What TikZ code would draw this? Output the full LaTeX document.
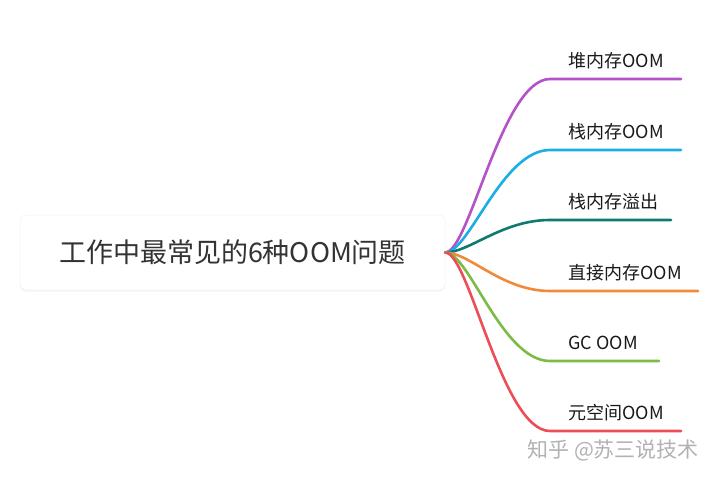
\documentclass[tikz,border=0pt]{standalone}
\usepackage{fontspec}
\newfontfamily\cjk{Noto Sans CJK SC}
\usetikzlibrary{shadows}

\definecolor{astlila}{HTML}{B452C8}
\definecolor{astblau}{HTML}{1BAEE6}
\definecolor{astpetrol}{HTML}{0F7B6F}
\definecolor{astorange}{HTML}{F0893A}
\definecolor{astgruen}{HTML}{7CBB46}
\definecolor{astrot}{HTML}{EC4D56}
\definecolor{schrift}{HTML}{333333}

\begin{document}
\begin{tikzpicture}[x=1pt,y=-1pt,thick]

\useasboundingbox[fill=white] (0,0) rectangle (720,479);

\node[fill=white,draw=black!6,line width=0.5pt,rounded corners=6pt,
	minimum width=425pt,minimum height=75pt,
	drop shadow={shadow xshift=0pt,shadow yshift=-1.5pt,opacity=0.08},
	font=\cjk\fontsize{27}{32}\selectfont,text=schrift] (wurzel) at (232.5,252.5) {工作中最常见的6种OOM问题};

\def\ast#1#2#3#4#5{
	\coordinate (s#1) at (550,#2);
	\coordinate (e#1) at (#3,#2);
	\draw[line width=2.6pt,line cap=round,color=#4]
		(wurzel.east) .. controls +(24,0) and +(-48,0) .. (s#1) -- (e#1);
	\node[anchor=base west,inner sep=0pt,font=\cjk\fontsize{18}{21}\selectfont,text=black!90] (blatt#1) at (568,#2-12) {#5};
}

\ast{1}{79}{681}{astlila}{堆内存OOM}
\ast{2}{150}{681}{astblau}{栈内存OOM}
\ast{3}{220}{671}{astpetrol}{栈内存溢出}
\ast{4}{291}{698}{astorange}{直接内存OOM}
\ast{5}{361}{659}{astgruen}{GC OOM}
\ast{6}{431}{681}{astrot}{元空间OOM}

\node[anchor=base west,inner sep=0pt,font=\cjk\fontsize{21}{24}\selectfont,text=black!30] (wasserzeichen) at (527,457) {知乎 @苏三说技术};

\end{tikzpicture}
\end{document}
